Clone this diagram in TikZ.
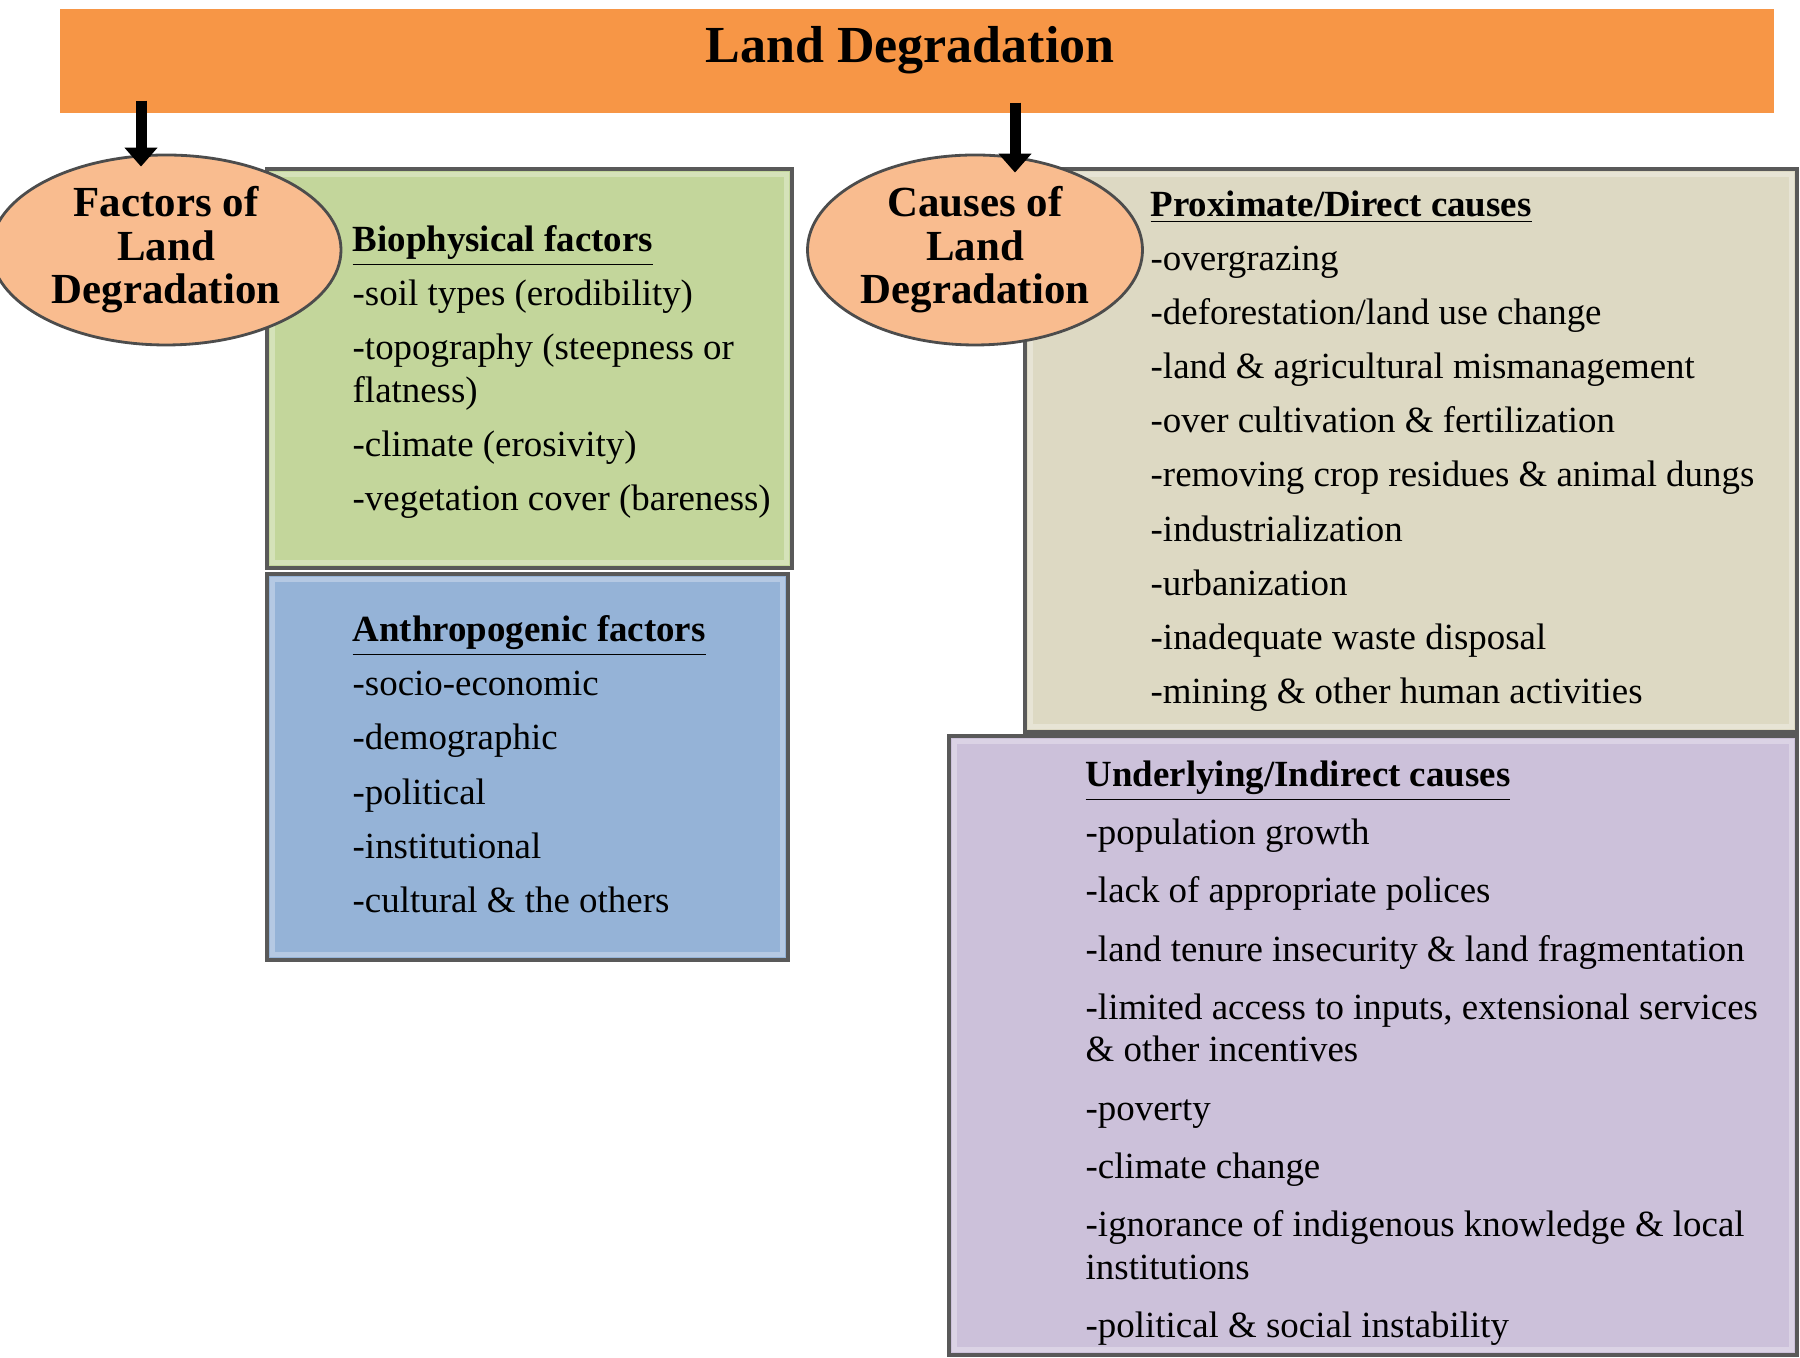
\documentclass[tikz,border=0pt]{standalone}
\usepackage{fontspec}
\setmainfont{Liberation Serif}
\usetikzlibrary{shapes.geometric,arrows.meta}
\definecolor{bannerorange}{HTML}{F79646}
\definecolor{ovalorange}{HTML}{F9BC8F}
\definecolor{biogreen}{HTML}{C3D69B}
\definecolor{anthblue}{HTML}{95B3D7}
\definecolor{proxtan}{HTML}{DDD9C3}
\definecolor{underlilac}{HTML}{CCC1DA}
\newcommand{\hd}[1]{\textbf{\underline{#1}}}

\begin{document}
\begin{tikzpicture}[
  box/.style={draw=black!65, line width=1.2pt, inner sep=0pt,
    path picture={\draw[white, opacity=0.3, line width=1.4pt]
      ([shift={(1.6pt,-1.6pt)}]path picture bounding box.north west) rectangle
      ([shift={(-1.6pt,1.6pt)}]path picture bounding box.south east);}},
  oval/.style={ellipse, draw=black!70, line width=0.8pt, fill=ovalorange, align=center,
    inner sep=0pt, minimum width=3.4cm, minimum height=1.9cm,
    font=\fontsize{12.2}{12.4}\selectfont\bfseries},
  items/.style={align=left, inner sep=0pt, anchor=north west, font=\fontsize{10.5}{12}\selectfont},
  arr/.style={line width=0.11cm, -{Triangle[width=0.32cm,length=0.19cm]}}
]
  \useasboundingbox (0,0) rectangle (18,-13.58);
  % Banner
  \node[fill=bannerorange, minimum width=17.14cm, minimum height=1.04cm, inner sep=0pt]
    (banner) at (9.17,-0.61) {};
  \node[font=\fontsize{14.8}{16}\selectfont\bfseries] (title) at (9.10,-0.50) {Land Degradation};
  % Boxes
  \node[box, fill=biogreen, minimum width=5.25cm, minimum height=3.99cm] (biobox) at (5.295,-3.685) {};
  \node[box, fill=anthblue, minimum width=5.21cm, minimum height=3.86cm] (anthbox) at (5.275,-7.67) {};
  \node[box, fill=underlilac, minimum width=8.48cm, minimum height=6.19cm] (underbox) at (13.73,-10.455) {};
  \node[box, fill=proxtan, minimum width=7.72cm, minimum height=5.63cm] (proxbox) at (14.11,-4.505) {};
  % Ovals
  \node[oval, minimum width=3.5cm] (factors) at (1.66,-2.50) {Factors of\\Land\\Degradation};
  \node[oval, minimum width=3.35cm] (causes) at (9.75,-2.50) {Causes of\\Land\\Degradation};
  % Arrows
  \draw[arr] ([xshift=-0.25cm,yshift=0.13cm]banner.south -| factors.north) -- ([xshift=-0.25cm,yshift=-0.13cm]factors.north);
  \draw[arr] ([xshift=0.40cm,yshift=0.11cm]banner.south -| causes.north) -- ([xshift=0.40cm,yshift=-0.19cm]causes.north);
  % Texts
  \node[items] (bio) at (3.52,-2.25) {\hd{Biophysical factors}\\[3.4pt]
    -soil types (erodibility)\\[3.4pt]
    -topography (steepness or\\flatness)\\[3.4pt]
    -climate (erosivity)\\[3.4pt]
    -vegetation cover (bareness)};
  \node[items] (anth) at (3.52,-6.15) {\hd{Anthropogenic factors}\\[3.4pt]
    -socio-economic\\[3.4pt]
    -demographic\\[3.4pt]
    -political\\[3.4pt]
    -institutional\\[3.4pt]
    -cultural \& the others};
  \node[items] (prox) at (11.50,-1.90) {\hd{Proximate/Direct causes}\\[3.4pt]
    -overgrazing\\[3.4pt]
    -deforestation/land use change\\[3.4pt]
    -land \& agricultural mismanagement\\[3.4pt]
    -over cultivation \& fertilization\\[3.4pt]
    -removing crop residues \& animal dungs\\[3.4pt]
    -industrialization\\[3.4pt]
    -urbanization\\[3.4pt]
    -inadequate waste disposal\\[3.4pt]
    -mining \& other human activities};
  \node[items] (under) at (10.85,-7.60) {\hd{Underlying/Indirect causes}\\[4.6pt]
    -population growth\\[4.6pt]
    -lack of appropriate polices\\[4.6pt]
    -land tenure insecurity \& land fragmentation\\[4.6pt]
    -limited access to inputs, extensional services\\\& other incentives\\[4.6pt]
    -poverty\\[4.6pt]
    -climate change\\[4.6pt]
    -ignorance of indigenous knowledge \& local\\institutions\\[4.6pt]
    -political \& social instability};
\end{tikzpicture}
\end{document}
